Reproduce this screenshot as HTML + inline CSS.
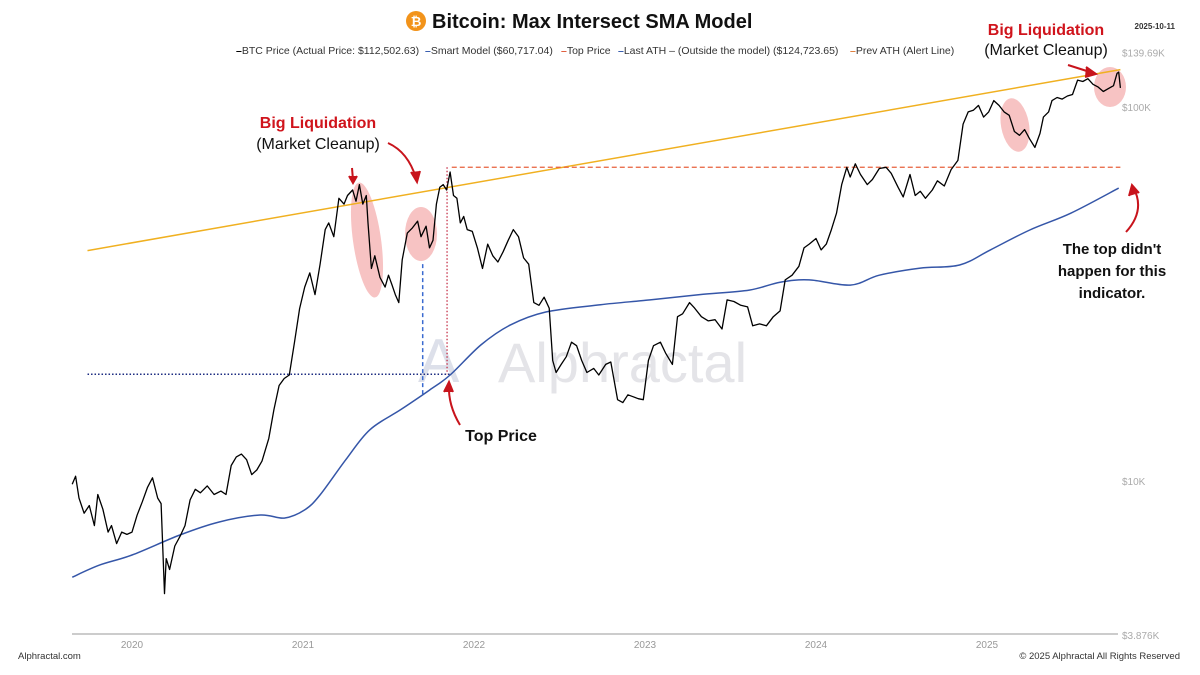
<!DOCTYPE html>
<html><head><meta charset="utf-8"><style>
body{margin:0;background:#fff;}
svg{display:block;font-family:"Liberation Sans",sans-serif;}
</style></head><body>
<svg id="chart" width="1200" height="675" viewBox="0 0 1200 675">
<g>
<text x="418" y="382" font-size="62" fill="#dde0ea">A</text>
<text x="498" y="382" font-size="56" fill="#e4e4e8">Alphractal</text>
</g>
<g>
<circle cx="416" cy="21" r="10" fill="#f2931a"/>
<text x="416" y="26" font-size="13" font-weight="bold" fill="#fff" text-anchor="middle">₿</text>
<text x="432" y="28" font-size="20" font-weight="bold" fill="#111">Bitcoin: Max Intersect SMA Model</text>
<text x="1175" y="29" font-size="8" font-weight="bold" fill="#333" text-anchor="end">2025-10-11</text>
</g>
<g font-size="10.5" fill="#333">
<text x="236" y="54"><tspan fill="#000" font-weight="bold">–</tspan>BTC Price (Actual Price: $112,502.63)</text>
<text x="425" y="54"><tspan fill="#3a5fb0" font-weight="bold">–</tspan>Smart Model ($60,717.04)</text>
<text x="561" y="54"><tspan fill="#e06040" font-weight="bold">–</tspan>Top Price</text>
<text x="618" y="54"><tspan fill="#3a5fb0" font-weight="bold">–</tspan>Last ATH – (Outside the model) ($124,723.65)</text>
<text x="850" y="54"><tspan fill="#e08040" font-weight="bold">–</tspan>Prev ATH (Alert Line)</text>
</g>
<g id="plot"></g>
<g font-size="10" fill="#aaa" id="yaxis"></g>
<g font-size="10" fill="#999" id="xaxis"></g>
<g>
<text x="318" y="128" font-size="16" font-weight="bold" fill="#d0141c" text-anchor="middle">Big Liquidation</text>
<text x="318" y="149" font-size="16" fill="#111" text-anchor="middle">(Market Cleanup)</text>
<text x="1046" y="35" font-size="16" font-weight="bold" fill="#d0141c" text-anchor="middle">Big Liquidation</text>
<text x="1046" y="55" font-size="16" fill="#111" text-anchor="middle">(Market Cleanup)</text>
<text x="501" y="441" font-size="16" font-weight="bold" fill="#111" text-anchor="middle">Top Price</text>
<g font-size="15" font-weight="bold" fill="#111" text-anchor="middle">
<text x="1112" y="254">The top didn't</text><text x="1112" y="276">happen for this</text><text x="1112" y="298">indicator.</text>
</g>
<g stroke="#c8141c" stroke-width="2" fill="none">
<path d="M352 168 L353 180"/><path d="M349 176 L353 183 L357 176" fill="#c8141c"/>
<path d="M388 143 Q408 152 416 178"/><path d="M411 172 L417 182 L420 171" fill="#c8141c"/>
<path d="M460 425 Q448 405 449 385"/><path d="M444 392 L449 382 L453 392" fill="#c8141c"/>
<path d="M1126 232 Q1146 210 1133 187"/><path d="M1129 196 L1132 185 L1139 193" fill="#c8141c"/>
<path d="M1068 65 L1093 73"/><path d="M1086 67 L1096 74 L1085 77" fill="#c8141c"/>
</g>
</g>
<text x="18" y="659" font-size="9.5" fill="#333">Alphractal.com</text>
<text x="1180" y="659" font-size="9.5" fill="#333" text-anchor="end">© 2025 Alphractal All Rights Reserved</text>
</svg>
<script>
const btcDates=[2019.65,2019.67,2019.69,2019.72,2019.75,2019.78,2019.8,2019.83,2019.86,2019.88,2019.91,2019.94,2019.97,2020.0,2020.03,2020.06,2020.09,2020.12,2020.15,2020.17,2020.19,2020.2,2020.22,2020.25,2020.28,2020.31,2020.34,2020.37,2020.4,2020.44,2020.48,2020.52,2020.55,2020.58,2020.61,2020.64,2020.67,2020.7,2020.73,2020.76,2020.8,2020.83,2020.86,2020.89,2020.92,2020.95,2020.98,2021.01,2021.04,2021.07,2021.1,2021.13,2021.15,2021.18,2021.21,2021.24,2021.26,2021.29,2021.31,2021.33,2021.35,2021.37,2021.38,2021.4,2021.42,2021.45,2021.48,2021.5,2021.52,2021.54,2021.56,2021.58,2021.61,2021.64,2021.67,2021.69,2021.72,2021.74,2021.76,2021.78,2021.8,2021.82,2021.84,2021.86,2021.88,2021.9,2021.92,2021.94,2021.96,2021.99,2022.02,2022.05,2022.08,2022.11,2022.14,2022.17,2022.2,2022.23,2022.26,2022.29,2022.32,2022.35,2022.38,2022.41,2022.44,2022.46,2022.48,2022.51,2022.54,2022.57,2022.6,2022.63,2022.66,2022.7,2022.73,2022.77,2022.8,2022.84,2022.87,2022.9,2022.93,2022.96,2022.99,2023.02,2023.05,2023.09,2023.12,2023.16,2023.19,2023.22,2023.26,2023.29,2023.33,2023.37,2023.41,2023.45,2023.48,2023.52,2023.56,2023.6,2023.63,2023.67,2023.71,2023.75,2023.79,2023.82,2023.86,2023.9,2023.93,2023.96,2024.0,2024.03,2024.06,2024.09,2024.12,2024.15,2024.18,2024.2,2024.23,2024.26,2024.3,2024.33,2024.37,2024.41,2024.44,2024.48,2024.51,2024.55,2024.58,2024.61,2024.64,2024.68,2024.71,2024.75,2024.79,2024.83,2024.86,2024.89,2024.92,2024.95,2024.98,2025.01,2025.04,2025.07,2025.1,2025.13,2025.16,2025.19,2025.22,2025.25,2025.28,2025.31,2025.33,2025.36,2025.38,2025.41,2025.44,2025.47,2025.5,2025.53,2025.56,2025.59,2025.62,2025.65,2025.68,2025.71,2025.74,2025.76,2025.77,2025.78];
const btcPrices=[9.8,10.3,9.0,8.2,8.6,7.6,9.2,8.4,7.3,7.6,6.8,7.3,7.2,7.3,8.1,8.8,9.6,10.2,9.0,8.7,5.0,6.2,5.8,6.7,7.1,7.6,8.9,9.5,9.3,9.7,9.2,9.4,9.2,11.0,11.6,11.8,11.4,10.4,10.7,11.3,13.0,15.5,18.0,18.8,19.2,23.5,28.9,33.0,36.0,31.5,38.0,47.0,49.0,45.0,57.0,55.0,58.0,60.0,56.0,62.0,55.0,58.0,49.0,37.0,40.0,35.0,33.0,35.5,33.5,31.5,30.0,39.0,46.0,47.5,49.5,45.0,48.0,42.0,44.0,55.0,61.0,62.0,60.0,67.0,58.0,57.0,49.0,51.0,47.0,46.5,42.0,37.0,43.0,40.0,38.5,41.0,44.0,47.0,45.0,39.5,38.0,30.0,29.5,31.0,29.0,21.0,19.5,20.5,21.5,23.5,23.0,21.0,19.5,20.0,19.2,20.5,20.8,16.5,16.2,17.0,16.8,16.6,16.5,21.0,23.0,23.5,22.0,20.5,27.5,28.0,30.0,29.0,27.5,26.8,27.0,25.5,30.5,30.2,29.5,29.2,26.0,26.3,26.0,27.5,28.5,34.5,35.5,37.5,42.0,43.0,44.5,41.5,43.0,47.0,52.0,62.0,69.0,65.0,70.5,66.0,62.0,64.0,68.5,69.0,66.5,61.0,57.5,66.0,58.0,59.5,57.0,60.0,63.5,61.5,68.0,72.0,90.0,97.0,98.0,101.0,94.0,97.0,104.0,101.0,97.0,95.0,86.0,84.0,87.0,82.0,78.0,85.0,94.0,97.0,104.0,106.0,105.0,107.0,108.0,118.0,117.0,119.0,115.0,113.0,110.0,112.0,114.0,123.0,124.0,112.5];
const smaDates=[2019.65,2019.81,2020.0,2020.28,2020.51,2020.75,2020.89,2021.01,2021.10,2021.25,2021.39,2021.57,2021.74,2021.86,2022.04,2022.21,2022.42,2022.74,2023.03,2023.32,2023.61,2023.79,2023.96,2024.20,2024.37,2024.61,2024.84,2025.02,2025.25,2025.49,2025.77];
const smaPrices=[5.53,5.96,6.34,7.17,7.77,8.11,7.96,8.37,9.18,11.4,13.7,15.5,17.5,19.2,23.1,26.1,28.3,29.6,30.5,31.5,32.4,34.0,34.5,33.4,35.5,37.1,37.8,41.5,46.9,52.0,60.7];
const athLineDates=[2019.74,2025.78];
const athLinePrices=[41.3,125.9];
const topPrice=69.0, topDate=2021.86, prevAthStart=2021.87;
const crossPrice=19.3, crossStart=2019.74, crossDate=2021.86, liqDate=2021.70, liqLow=17.0, liqHigh=38.0;
const yTicks=[3.876,10,100,139.69];
const yTickLabels=["$3.876K","$10K","$100K","$139.69K"];
const xTicks=[2020,2021,2022,2023,2024,2025];

const NS="http://www.w3.org/2000/svg";
const X=t=>132+(t-2020)*171;
const Y=p=>481-374*Math.log10(p/10);
const plot=document.getElementById('plot');
function mk(tag,attrs,parent){const e=document.createElementNS(NS,tag);for(const k in attrs)e.setAttribute(k,attrs[k]);(parent||plot).appendChild(e);return e;}
function pathOf(ds,ps){return ds.map((d,i)=>(i?'L':'M')+X(d).toFixed(1)+' '+Y(ps[i]).toFixed(1)).join(' ');}
function smoothOf(ds,ps){const pts=ds.map((d,i)=>[X(d),Y(ps[i])]);let s='M'+pts[0][0].toFixed(1)+' '+pts[0][1].toFixed(1);
for(let i=0;i<pts.length-1;i++){const p0=pts[Math.max(0,i-1)],p1=pts[i],p2=pts[i+1],p3=pts[Math.min(pts.length-1,i+2)];
const c1=[p1[0]+(p2[0]-p0[0])/6,p1[1]+(p2[1]-p0[1])/6],c2=[p2[0]-(p3[0]-p1[0])/6,p2[1]-(p3[1]-p1[1])/6];
s+=` C${c1[0].toFixed(1)} ${c1[1].toFixed(1)} ${c2[0].toFixed(1)} ${c2[1].toFixed(1)} ${p2[0].toFixed(1)} ${p2[1].toFixed(1)}`;}return s;}

const ells=[[367,240,14,58,-8,'ellipse-liquidation-2021a'],[421,234,16,27,0,'ellipse-liquidation-2021b'],[1015,125,14,27,-10,'ellipse-liquidation-2025a'],[1110,87,16,20,0,'ellipse-liquidation-2025b']];
ells.forEach(a=>{const e=mk('ellipse',{cx:a[0],cy:a[1],rx:a[2],ry:a[3],transform:`rotate(${a[4]} ${a[0]} ${a[1]})`,fill:'#f4a9a9',opacity:'0.7'});

});

let e;
e=mk('path',{d:pathOf(athLineDates,athLinePrices),stroke:'#f0b020',"stroke-width":1.5,fill:'none'});


e=mk('line',{x1:X(prevAthStart),x2:X(2025.78),y1:Y(topPrice),y2:Y(topPrice),stroke:'#e8603c',"stroke-width":1.2,"stroke-dasharray":'5,3'});


e=mk('line',{x1:X(topDate)-3,x2:X(topDate)-3,y1:Y(topPrice),y2:Y(crossPrice),stroke:'#c0203a',"stroke-width":1.2,"stroke-dasharray":'1.5,2'});


e=mk('line',{x1:X(crossStart),x2:X(crossDate),y1:Y(crossPrice),y2:Y(crossPrice),stroke:'#1a2a80',"stroke-width":1.5,"stroke-dasharray":'1.5,2'});


e=mk('line',{x1:X(liqDate),x2:X(liqDate),y1:Y(liqHigh),y2:Y(liqLow),stroke:'#3a6ad0',"stroke-width":1.5,"stroke-dasharray":'4,3'});


e=mk('path',{d:smoothOf(smaDates,smaPrices),stroke:'#3556a8',"stroke-width":1.5,fill:'none'});


e=mk('path',{d:pathOf(btcDates,btcPrices),stroke:'#000',"stroke-width":1.3,fill:'none',"stroke-linejoin":'round'});



const ya=document.getElementById('yaxis');
yTicks.forEach((v,i)=>{const t=mk('text',{x:1122,y:Y(v)+4},ya);t.textContent=yTickLabels[i];

});
const xa=document.getElementById('xaxis');
e=mk('line',{x1:72,x2:1118,y1:634,y2:634,stroke:'#bbb',"stroke-width":1.5},xa);


xTicks.forEach(v=>{const t=mk('text',{x:X(v),y:648,"text-anchor":'middle'},xa);t.textContent=v;

});
</script>
</body></html>
